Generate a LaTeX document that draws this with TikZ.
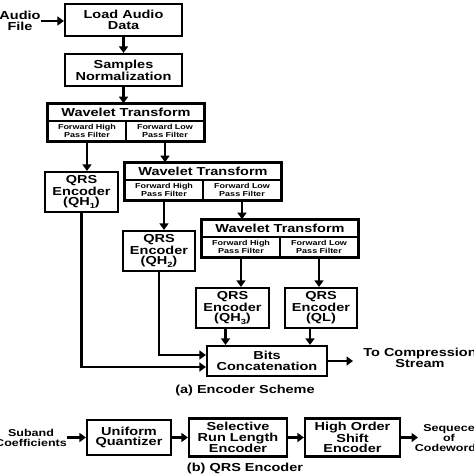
\documentclass[tikz,border=0pt]{standalone}
\usepackage{fontspec}
\newfontfamily\bsf{Liberation Sans Bold}[FakeStretch=1.25]
\usetikzlibrary{arrows.meta}
\newcommand\fbig{\bsf\fontsize{11.6}{10.6}\selectfont}
\newcommand\fsml{\bsf\fontsize{7.2}{7.4}\selectfont}
\newcommand\fside{\bsf\fontsize{10}{10.3}\selectfont}
\newcommand\sbs[1]{\raisebox{-0.25em}{\fontsize{7.5}{8}\selectfont #1}}
\tikzset{
  box/.style={draw, line width=2.2pt, inner sep=0pt, align=center, font=\fbig},
  cell/.style={draw, line width=1.6pt, inner sep=0pt, align=center},
  frame/.style={draw, line width=2.2pt},
  arr/.style={line width=2.2pt, -{Triangle[length=6.5pt,width=9pt]}},
  sidetext/.style={inner sep=0pt, align=center, font=\fside},
  bigtext/.style={inner sep=0pt, align=center, font=\fbig}
}
\begin{document}
\begin{tikzpicture}[x=1pt,y=-1pt]
\useasboundingbox (0,0) rectangle (474,474);
\fill[white] (0,0) rectangle (474,474);
% top chain
\node[bigtext] (audio) at (20,21) {Audio\\File};
\node[box, minimum width=117pt, minimum height=32pt] (load) at (123.5,20) {Load Audio\\Data};
\node[box, minimum width=117pt, minimum height=32pt] (samp) at (123.5,70) {Samples\\Normalization};
\draw[arr] (audio.east) -- (audio.east -| load.west);
\draw[arr] (load.south) -- (samp.north);
% wavelet 1
\node[cell, minimum width=156pt, minimum height=17pt, font=\fbig] (w1t) at (126,112.5) {Wavelet Transform};
\node[cell, minimum width=78pt, minimum height=20pt, font=\fsml] (w1h) at (87,131) {Forward High\\Pass Filter};
\node[cell, minimum width=78pt, minimum height=20pt, font=\fsml] (w1l) at (165,131) {Forward Low\\Pass Filter};
\draw[frame] (w1t.north west) rectangle (w1l.south east);
\draw[arr] (samp.south) -- (samp.south |- w1t.north);
% wavelet 2
\node[cell, minimum width=156pt, minimum height=17pt, font=\fbig] (w2t) at (203,171.5) {Wavelet Transform};
\node[cell, minimum width=78pt, minimum height=20pt, font=\fsml] (w2h) at (164,190) {Forward High\\Pass Filter};
\node[cell, minimum width=78pt, minimum height=20pt, font=\fsml] (w2l) at (242,190) {Forward Low\\Pass Filter};
\draw[frame] (w2t.north west) rectangle (w2l.south east);
% wavelet 3
\node[cell, minimum width=156pt, minimum height=17pt, font=\fbig] (w3t) at (280,228.5) {Wavelet Transform};
\node[cell, minimum width=78pt, minimum height=20pt, font=\fsml] (w3h) at (241,247) {Forward High\\Pass Filter};
\node[cell, minimum width=78pt, minimum height=20pt, font=\fsml] (w3l) at (319,247) {Forward Low\\Pass Filter};
\draw[frame] (w3t.north west) rectangle (w3l.south east);
% encoders
\node[box, minimum width=73pt, minimum height=40pt] (qh1) at (81.5,192) {QRS\\Encoder\\(QH\sbs{1})};
\node[box, minimum width=72pt, minimum height=40pt] (qh2) at (159,251) {QRS\\Encoder\\(QH\sbs{2})};
\node[box, minimum width=73pt, minimum height=40pt] (qh3) at (232.5,308) {QRS\\Encoder\\(QH\sbs{3})};
\node[box, minimum width=72pt, minimum height=40pt] (ql) at (321,308) {QRS\\Encoder\\(QL)};
\node[box, minimum width=120pt, minimum height=30pt] (bits) at (267,361) {Bits\\Concatenation};
% arrows
\draw[arr] (w1h.south) -- (w1h.south |- qh1.north);
\draw[arr] (w1l.south) -- (w1l.south |- w2t.north);
\draw[arr] (w2h.south) -- (w2h.south |- qh2.north);
\draw[arr] (w2l.south) -- (w2l.south |- w3t.north);
\draw[arr] (w3h.south) -- (w3h.south |- qh3.north);
\draw[arr] (w3l.south) -- (w3l.south |- ql.north);
\draw[arr] (qh1.south) |- ([yshift=-6pt]bits.west);
\draw[arr] (qh2.south) |- ([yshift=6pt]bits.west);
\draw[arr] ([xshift=-7pt]qh3.south) -- ([xshift=-7pt]qh3.south |- bits.north);
\draw[arr] ([xshift=-11pt]ql.south) -- ([xshift=-11pt]ql.south |- bits.north);
\coordinate (outend) at (353,361);
\draw[arr] (bits.east) -- (outend);
\node[bigtext] (tcs) at (420,358) {To Compression\\Stream};
\node[bigtext] (capa) at (245,390) {(a) Encoder Scheme};
% bottom: QRS encoder
\node[sidetext] (sub) at (31,438) {Suband\\Coefficients};
\node[box, minimum width=84pt, minimum height=35pt] (uq) at (129,437.5) {Uniform\\Quantizer};
\node[box, minimum width=98pt, minimum height=38pt] (srl) at (238,437.5) {Selective\\Run Length\\Encoder};
\node[box, minimum width=95pt, minimum height=38pt] (hos) at (352.5,437.5) {High Order\\Shift\\Encoder};
\node[sidetext] (seq) at (449,438) {Sequece\\of\\Codewords};
\coordinate (seqin) at (418,437.5);
\draw[arr] (uq.west -| sub.east) -- (uq.west);
\draw[arr] (uq.east) -- (srl.west);
\draw[arr] (srl.east) -- (hos.west);
\draw[arr] (hos.east) -- (seqin);
\node[bigtext] (capb) at (245,468) {(b) QRS Encoder};
\end{tikzpicture}
\end{document}
